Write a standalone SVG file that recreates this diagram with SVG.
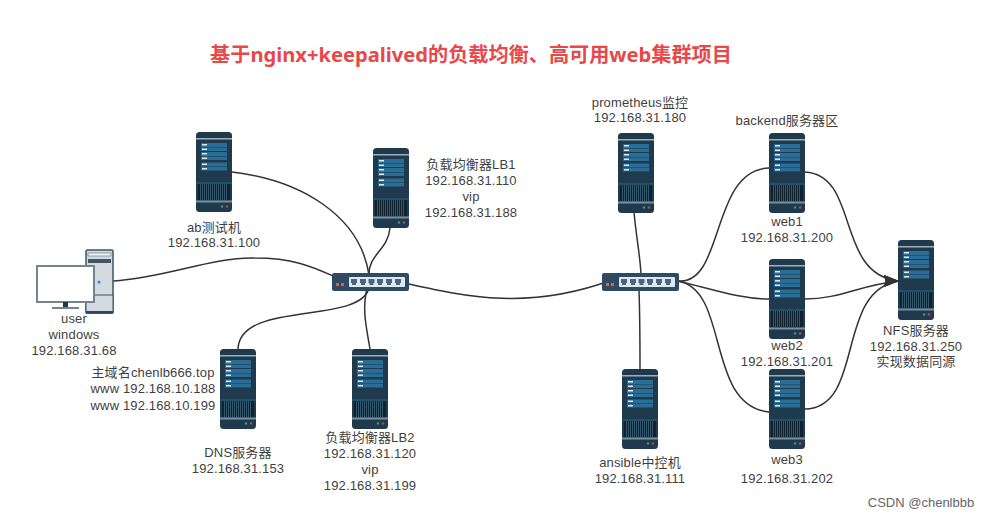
<svg xmlns="http://www.w3.org/2000/svg" width="990" height="518" viewBox="0 0 990 518">
<style>
text{font-family:"Liberation Sans","Noto Sans CJK SC",sans-serif;font-size:13px;letter-spacing:.15px;fill:#3f3f3f;text-anchor:middle}
.t{font-family:"Noto Sans","Noto Sans CJK SC",sans-serif;font-size:20.15px;letter-spacing:0;font-weight:bold;fill:#e8484a}
.w{fill:#666;letter-spacing:0}
.c{fill:none;stroke:#333;stroke-width:1.5}
.b{fill:#2a6d96}.l{fill:#dfe8ee}
</style>
<defs>
<marker id="a" viewBox="0 0 15 12" refX="15" refY="6" markerWidth="15" markerHeight="12" markerUnits="userSpaceOnUse" orient="0"><path d="M0 0L15 6L0 12L1.500 6Z" fill="#333"/></marker>
<symbol id="srv" width="36" height="80" viewBox="0 0 36 80" overflow="visible">
<rect width="36" height="80" rx="3.500" fill="#1f3a4d"/>
<rect y="6" width="36" height="1.500" fill="#9db0ba"/>
<rect class="b" x="5" y="11" width="26" height="4"/><rect class="b" x="5" y="15.500" width="26" height="3.500"/>
<rect class="b" x="5" y="20" width="26" height="4"/><rect class="b" x="5" y="24.500" width="26" height="3.500"/>
<rect class="b" x="5" y="30.500" width="26" height="4"/><rect class="b" x="5" y="35" width="26" height="3.500"/>
<rect class="l" x="6" y="12" width="5" height="1.500"/><rect class="l" x="6" y="16.500" width="5" height="1.500"/>
<rect class="l" x="6" y="21" width="5" height="1.500"/><rect class="l" x="6" y="25.500" width="5" height="1.500"/>
<rect class="l" x="6" y="31.500" width="5" height="1.500"/><rect class="l" x="6" y="36" width="5" height="1.500"/>
<rect y="50.500" width="36" height="1" fill="#1c6a8c"/>
<rect x="2" y="52" width="32" height="16" fill="#0e2230"/>
<path d="M4.500 52v16M6.500 52v16M8.500 52v16M10.500 52v16M12.500 52v16M14.500 52v16M16.500 52v16M18.500 52v16M20.500 52v16M22.500 52v16M24.500 52v16M26.500 52v16M28.500 52v16M30.500 52v16" stroke="#34566b" stroke-width="1"/>
<rect y="68.500" width="36" height="2" fill="#78909c"/>
<circle cx="26" cy="74.500" r="1.300" fill="#2f9e6e"/><circle cx="31" cy="74.500" r="1.300" fill="#b04a5a"/>
</symbol>
<symbol id="sw" width="77" height="18" viewBox="0 0 77 18" overflow="visible">
<rect width="77" height="18" rx="2" fill="#2f4a63"/>
<rect x="4" y="10" width="3" height="3" fill="#e0642c"/><rect x="9" y="10" width="3" height="3" fill="#e0642c"/>
<rect x="17" y="4" width="56" height="10" rx="1" fill="#dce8f2"/>
<g fill="#4f6478"><path d="M19 6h6v4h-1v2h-4v-2h-1z"/><path d="M28 6h6v4h-1v2h-4v-2h-1z"/><path d="M36.500 6h6v4h-1v2h-4v-2h-1z"/><path d="M45 6h6v4h-1v2h-4v-2h-1z"/><path d="M54 6h6v4h-1v2h-4v-2h-1z"/><path d="M63 6h6v4h-1v2h-4v-2h-1z"/></g>
</symbol>
</defs>
<rect width="990" height="518" fill="#fff"/>
<g id="connectors">
<path class="c" d="M113 281C170 277 210 257 255 258C295 258 315 268 333 276"/>
<path class="c" d="M232 172C300 180 360 215 369 275"/>
<path class="c" d="M390 228C388 250 368 255 369 275"/>
<path class="c" d="M369 288C360 325 240 300 238 349"/>
<path class="c" d="M367 288C362 310 366 325 370 349"/>
<path class="c" d="M400 282C470 298 530 310 612 280"/>
<path class="c" d="M634 212C636 235 640 255 641 274"/>
<path class="c" d="M639 290C640 320 640 345 640 369"/>
<path class="c" d="M678 281C725 285 710 170 769 168"/>
<path class="c" d="M678 281C715 290 740 299 769 299"/>
<path class="c" d="M678 281C730 290 705 405 769 412"/>
<path class="c" d="M805 172C860 175 835 275 899 281" marker-end="url(#a)"/>
<path class="c" d="M805 299C840 299 860 285 899 281" marker-end="url(#a)"/>
<path class="c" d="M805 409C865 408 835 290 899 281" marker-end="url(#a)"/>
</g>
<text class="t" x="471" y="62">基于nginx+keepalived的负载均衡、高可用web集群项目</text>
<g id="user">
<rect x="86" y="250" width="27" height="63" rx="1.500" fill="#d3dae0" stroke="#3d5566" stroke-width="1.500"/>
<rect x="88" y="253" width="23" height="3" fill="#eef2f4" stroke="#3d5566" stroke-width="0.500"/>
<rect x="88" y="259" width="23" height="4" fill="#3d5566"/>
<rect x="86" y="295" width="27" height="18" fill="#d3dae0" stroke="#3d5566" stroke-width="1"/>
<rect x="86" y="311" width="27" height="2.500" fill="#2f4658"/>
<circle cx="99" cy="282" r="1.500" fill="#3b7fe0"/>
<rect x="37" y="266" width="57" height="36" fill="#fff" stroke="#75858f" stroke-width="2"/>
<rect x="63" y="302" width="5" height="6" fill="#1f3a4d"/>
<rect x="52" y="307" width="27" height="2" fill="#75858f"/>
<text x="74" y="323">user</text><text x="74" y="339">windows</text><text x="74" y="355">192.168.31.68</text>
</g>
<g id="ab"><use href="#srv" x="196" y="132"/><text x="214" y="232">ab测试机</text><text x="214" y="247">192.168.31.100</text></g>
<g id="lb1"><use href="#srv" x="373" y="148"/><text x="471" y="169">负载均衡器LB1</text><text x="471" y="185">192.168.31.110</text><text x="471" y="201">vip</text><text x="471" y="217">192.168.31.188</text></g>
<g id="dns"><use href="#srv" x="220" y="349"/><text x="153" y="377">主域名chenlb666.top</text><text x="153" y="393">www 192.168.10.188</text><text x="153" y="410">www 192.168.10.199</text><text x="238" y="457">DNS服务器</text><text x="238" y="473">192.168.31.153</text></g>
<g id="lb2"><use href="#srv" x="352" y="349"/><text x="370" y="442">负载均衡器LB2</text><text x="370" y="458">192.168.31.120</text><text x="370" y="474">vip</text><text x="370" y="490">192.168.31.199</text></g>
<g id="switch1"><use href="#sw" x="332" y="273"/></g>
<g id="switch2"><use href="#sw" x="602" y="273"/></g>
<g id="prometheus"><use href="#srv" x="618" y="133"/><text x="640" y="107">prometheus监控</text><text x="640" y="122">192.168.31.180</text></g>
<g id="ansible"><use href="#srv" x="622" y="369"/><text x="640" y="467">ansible中控机</text><text x="640" y="483">192.168.31.111</text></g>
<g id="web1"><use href="#srv" x="769" y="133"/><text x="787" y="125">backend服务器区</text><text x="787" y="226">web1</text><text x="787" y="242">192.168.31.200</text></g>
<g id="web2"><use href="#srv" x="769" y="259"/><text x="787" y="350">web2</text><text x="787" y="366">192.168.31.201</text></g>
<g id="web3"><use href="#srv" x="769" y="369"/><text x="787" y="464">web3</text><text x="787" y="483">192.168.31.202</text></g>
<g id="nfs"><use href="#srv" x="898" y="240"/><text x="916" y="335">NFS服务器</text><text x="916" y="351">192.168.31.250</text><text x="916" y="366">实现数据同源</text></g>
<text class="w" x="921" y="507">CSDN @chenlbbb</text>
</svg>
